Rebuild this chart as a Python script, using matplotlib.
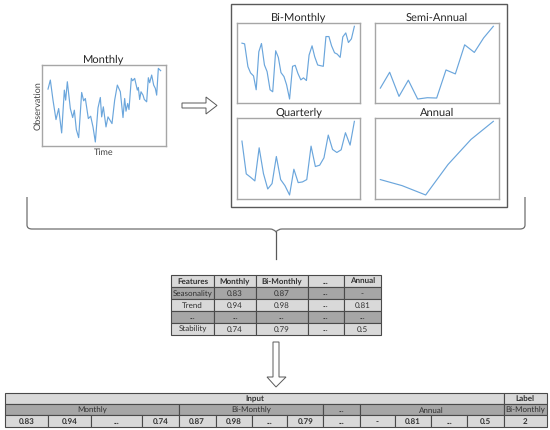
import matplotlib
matplotlib.use("Agg")
import matplotlib.pyplot as plt
from matplotlib.patches import Rectangle, Polygon, PathPatch
from matplotlib.path import Path

plt.rcParams['font.family'] = ['Lato', 'DejaVu Sans']
plt.rcParams['text.hinting'] = 'no_hinting'

W, H = 550, 430
LINE = "#6ba6dc"
FRAME = "#a6a6a6"
DARK = "#4a4a4a"
CELL_LIGHT = "#d9d9d9"
CELL_DARK = "#a6a6a6"

monthly_t = [18, 25, 33, 42, 50, 59, 67, 71, 76, 85, 92, 97, 103, 110, 119, 125, 130, 139,
             146, 153, 160, 168, 175, 179, 184, 192, 198, 210, 218, 226, 235, 243, 248, 252,
             257, 261, 268, 272, 278, 286, 289, 293, 297, 303, 307, 314, 319, 323, 329, 335,
             340, 344, 349, 356]
monthly_v = [170, 197, 137, 79, 112, 39, 167, 137, 192, 112, 85, 107, 49, 25, 160, 135, 142, 82,
             89, 57, 12, 114, 145, 87, 117, 57, 87, 67, 137, 182, 162, 85, 142, 104,
             127, 109, 202, 195, 202, 167, 175, 139, 162, 152, 139, 132, 204, 189, 212, 182,
             172, 152, 232, 225]
bimonthly_t = [15, 23, 33, 41, 50, 58, 66, 74, 83, 91, 100, 108, 117, 125, 133, 142, 150, 159, 168,
               176, 184, 193, 201, 210, 218, 227, 235, 244, 252, 261, 269, 278, 286, 295, 303, 312,
               320, 329, 337, 346, 355]
bimonthly_v = [181, 179, 110, 91, 82, 40, 155, 180, 115, 95, 40, 34, 158, 138, 92, 80, 55, 12, 111,
               114, 90, 70, 76, 68, 145, 173, 140, 115, 113, 111, 201, 201, 173, 152, 148, 138,
               200, 212, 183, 194, 232]
semi_t = [16, 44, 72, 100, 128, 157, 185, 213, 241, 269, 298, 326, 355]
semi_v = [45, 93, 20, 69, 12, 16, 15, 100, 88, 176, 153, 197, 232]
quarterly_t = [15, 28, 41, 54, 67, 80, 93, 106, 119, 132, 145, 159, 172, 185, 198, 211, 224, 237,
               250, 263, 276, 289, 302, 315, 328, 342, 355]
quarterly_v = [173, 75, 65, 54, 153, 76, 30, 46, 127, 58, 40, 12, 89, 49, 51, 58, 158, 97,
               101, 123, 191, 148, 139, 147, 198, 161, 232]
annual_t = [16, 81, 152, 219, 288, 355]
annual_v = [58, 40, 12, 103, 178, 232]

# features table
feat_header = ["Features", "Monthly", "Bi-Monthly", "...", "Annual"]
feat_rows = [["Seasonality", "0.83", "0.87", "...", "-"],
             ["Trend", "0.94", "0.98", "...", "0.81"],
             ["...", "...", "...", "...", "..."],
             ["Stability", "0.74", "0.79", "...", "0.5"]]
feat_x = [171, 214.3, 255.7, 307.7, 343.7, 380.7]
feat_y = [275.3, 287.3, 299.3, 311, 323, 334.7]

# input table
input_groups = ["Monthly", "Bi-Monthly", "...", "Annual", "Bi-Monthly"]
group_x = [5, 178.5, 323.3, 359.7, 503.7, 546.7]
input_values = ["0.83", "0.94", "...", "0.74", "0.87", "0.98", "...", "0.79", "...",
                "-", "0.81", "...", "0.5", "2"]
value_x = [5, 48.3, 90.7, 142, 178.5, 215.7, 252, 287.3, 323.3, 359.7, 395, 431, 467.3, 503.7, 546.7]
input_y = [393.3, 404, 415, 426.7]


def small_chart(rect, title, t, v, xlabel=None, ylabel=None):
    x0, y0, x1, y1 = rect
    ax = fig.add_axes([x0 / W, 1 - y1 / H, (x1 - x0) / W, (y1 - y0) / H])
    ax.plot(t, v, color=LINE, lw=0.85)
    ax.set_xlim(0, 372)
    ax.set_ylim(0, 242)
    ax.set_xticks([])
    ax.set_yticks([])
    for s in ax.spines.values():
        s.set_color(FRAME)
        s.set_linewidth(1.0)
    ax.set_title(title, fontsize=8, color="#262626", pad=1)
    if xlabel:
        ax.set_xlabel(xlabel, fontsize=6.5, color="#404040", labelpad=1.5)
    if ylabel:
        ax.set_ylabel(ylabel, fontsize=6.5, color="#404040", labelpad=0)


def cell(x0, x1, y0, y1, text, fc, bold=False, size=5.8):
    bg.add_patch(Rectangle((x0, y0), x1 - x0, y1 - y0, fc=fc, ec=DARK, lw=0.8))
    bg.text((x0 + x1) / 2, (y0 + y1) / 2, text, ha="center", va="center_baseline", fontsize=size,
            color="#303030", fontweight="bold" if bold else "normal")


fig = plt.figure(figsize=(W / 100, H / 100), dpi=100)
bg = fig.add_axes([0, 0, 1, 1])
bg.set_xlim(0, W)
bg.set_ylim(H, 0)
bg.axis("off")

# box around the four resampled charts
bg.add_patch(Rectangle((231, 4), 276, 203, fc="white", ec="#595959", lw=1.0))

# hollow arrows
bg.add_patch(Polygon([(182, 103), (206, 103), (206, 97), (217, 105.5), (206, 114), (206, 108), (182, 108)],
                     closed=True, fc="white", ec="#595959", lw=0.7))
bg.add_patch(Polygon([(273, 342), (279, 342), (279, 377), (286, 377), (276, 387), (267, 377), (273, 377)],
                     closed=True, fc="white", ec="#595959", lw=0.7))

# brace
brace = Path([(27, 197), (27, 225), (27, 229), (32, 229), (270, 229), (274, 229), (276, 232),
              (278, 229), (282, 229), (520, 229), (525, 229), (525, 225), (525, 197)],
             [Path.MOVETO, Path.LINETO, Path.CURVE3, Path.CURVE3, Path.LINETO, Path.CURVE3, Path.CURVE3,
              Path.CURVE3, Path.CURVE3, Path.LINETO, Path.CURVE3, Path.CURVE3, Path.LINETO])
bg.add_patch(PathPatch(brace, fc="none", ec="#6e6e6e", lw=0.9))
bg.plot([276, 276], [232, 259], color="#595959", lw=0.9)

small_chart((42, 65, 166, 146), "Monthly", monthly_t, monthly_v, "Time", "Observation")
small_chart((237, 23, 360, 103), "Bi-Monthly", bimonthly_t, bimonthly_v)
small_chart((375, 23, 499, 103), "Semi-Annual", semi_t, semi_v)
small_chart((237, 118, 360, 199), "Quarterly", quarterly_t, quarterly_v)
small_chart((375, 118, 499, 199), "Annual", annual_t, annual_v)

# features table
for i, txt in enumerate(feat_header):
    cell(feat_x[i], feat_x[i + 1], feat_y[0], feat_y[1], txt, CELL_LIGHT, bold=True)
for r, row in enumerate(feat_rows):
    fc = CELL_DARK if r % 2 == 0 else CELL_LIGHT
    for i, txt in enumerate(row):
        cell(feat_x[i], feat_x[i + 1], feat_y[r + 1], feat_y[r + 2], txt, fc)

# input table
cell(group_x[0], group_x[4], input_y[0], input_y[1], "Input", CELL_LIGHT, bold=True)
cell(group_x[4], group_x[5], input_y[0], input_y[1], "Label", CELL_LIGHT, bold=True)
for i, txt in enumerate(input_groups):
    cell(group_x[i], group_x[i + 1], input_y[1], input_y[2], txt, CELL_DARK)
for i, txt in enumerate(input_values):
    cell(value_x[i], value_x[i + 1], input_y[2], input_y[3], txt, CELL_LIGHT, bold=True)

fig.savefig("out.png", dpi=100)
